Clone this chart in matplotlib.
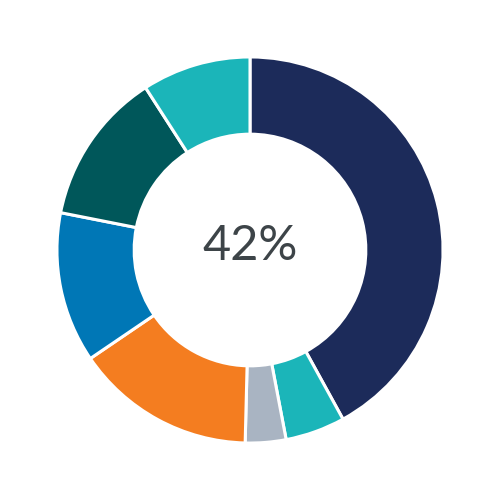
import matplotlib.pyplot as plt

labels = ["A", "B", "C", "D", "E", "F", "G"]
values = [42, 5.0, 3.4, 15.1, 12.6, 12.8, 9.1]
colors = ["#1c2b5a", "#1bb5b9", "#a9b4c2", "#f47d20", "#0077b6", "#00575a", "#1bb5b9"]
center_text = "42%"

fig = plt.figure(figsize=(5, 5), dpi=100)
ax = fig.add_axes([0, 0, 1, 1])
ax.pie(values, colors=colors, startangle=90, counterclock=False,
       wedgeprops=dict(width=0.4, edgecolor="white", linewidth=2.2))
ax.text(0, 0.02, center_text, ha="center", va="center", fontsize=35,
        family=["Lato", "DejaVu Sans"], fontweight="normal", color="#3d4448")
ax.set_xlim(-1.295, 1.295)
ax.set_ylim(-1.295, 1.295)
ax.set_aspect("equal")
ax.axis("off")
fig.savefig("out.png", dpi=100, facecolor="white")
